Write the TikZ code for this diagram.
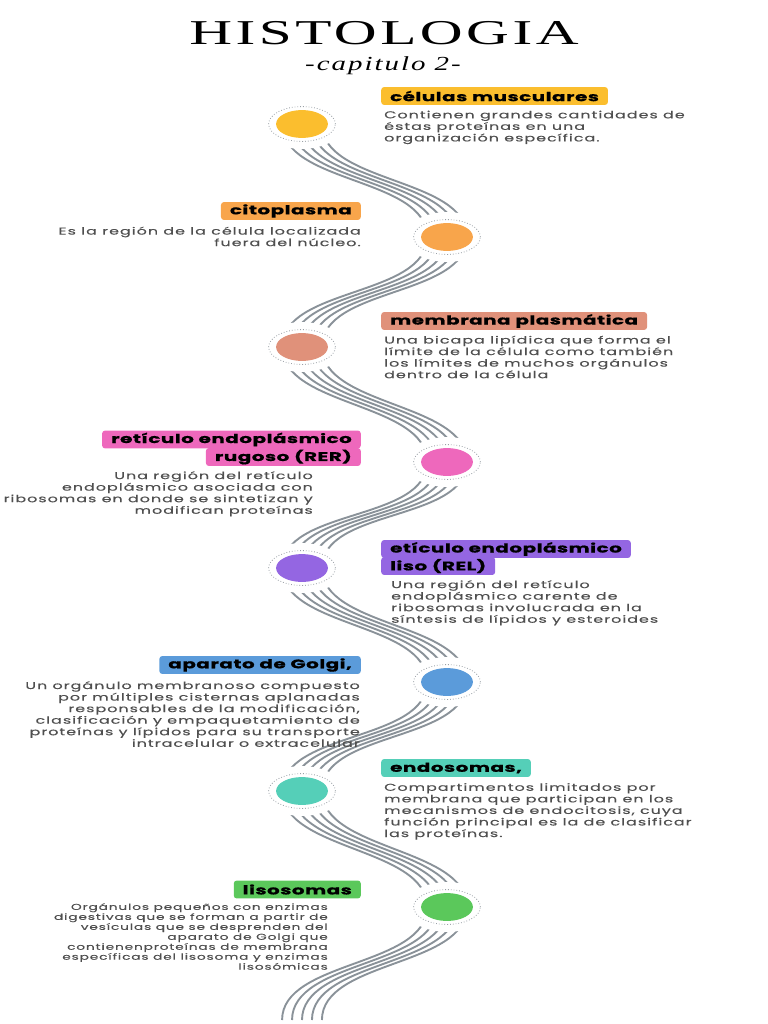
\documentclass[tikz,border=0pt]{standalone}
\usepackage{fontspec}
\setmainfont{Poppins}
\newfontfamily\titlefont[FakeStretch=1.7,LetterSpace=10]{Liberation Serif}
\newfontfamily\subfont[FakeStretch=1.45,LetterSpace=10]{Liberation Serif}
\newfontfamily\descfont[FakeStretch=1.6,LetterSpace=10,FakeBold=0.4]{Poppins}
\newfontfamily\labfont[FakeStretch=1.6,LetterSpace=4,FakeBold=0.8]{Poppins}
\usetikzlibrary{shapes.geometric,backgrounds,positioning}

\definecolor{cyel}{HTML}{FBBE2E}
\definecolor{corg}{HTML}{F8A54B}
\definecolor{csal}{HTML}{E0917A}
\definecolor{cpnk}{HTML}{EE68BC}
\definecolor{cpur}{HTML}{9466E2}
\definecolor{cblu}{HTML}{5B9BDA}
\definecolor{ctea}{HTML}{55CFB8}
\definecolor{cgrn}{HTML}{5BC85B}
\definecolor{wavegray}{HTML}{8A9299}
\definecolor{ringgray}{HTML}{9AA0A6}
\definecolor{descgray}{HTML}{4F4F4F}

\tikzset{
  halo/.style={ellipse, fill=white, minimum width=84, minimum height=50, inner sep=0},
  ring/.style={ellipse, draw=ringgray, dotted, line width=0.8, minimum width=67, minimum height=35, inner sep=0},
  dot/.style={ellipse, fill=#1, minimum width=52, minimum height=28, inner sep=0},
  wave/.style={draw=wavegray, line width=1.9},
  tag/.style={fill=#1, rounded corners=3, inner xsep=9, inner ysep=0, minimum height=18,
    text=black, font=\labfont\bfseries\fontsize{12.5}{15}\selectfont},
  desc/.style={inner sep=0, text=descgray, font=\descfont\fontsize{10}{11.6}\selectfont},
  small desc/.style={desc, font=\descfont\fontsize{8.6}{10}\selectfont},
}

\begin{document}
\begin{tikzpicture}[x=1bp, y=-1bp]
\useasboundingbox (0,0) rectangle (768,1024);

% title
\node (title) at (384,33) {\titlefont\fontsize{35}{40}\selectfont HISTOLOGIA};
\node (subtitle) at (383,66) {\subfont\itshape\fontsize{20}{22}\selectfont -capitulo 2-};

% stops
\foreach \n/\px/\py/\col in {1/302/124/cyel, 2/447/237/corg, 3/302/347/csal, 4/447/462/cpnk,
    5/302/568/cpur, 6/447/682/cblu, 7/302/791/ctea, 8/447/907/cgrn} {
  \node[halo] (h\n) at (\px,\py) {};
  \node[ring] (c\n) at (h\n) {};
  \node[dot=\col] (d\n) at (c\n) {};
}
\coordinate (tail) at (302,1020);

% waves between the stops
\begin{scope}[on background layer]
  \clip (0,0) rectangle (768,1024);
  \foreach \a/\b in {1/2, 2/3, 3/4, 4/5, 5/6, 6/7, 7/8}
    \foreach \d in {-2,...,2}
      \draw[wave] ([xshift=\d*10]c\a.center) .. controls +(0,60) and +(0,-60) .. ([xshift=\d*10]c\b.center);
  \foreach \d in {-2,...,2}
    \draw[wave] ([xshift=\d*10]c8.center) .. controls +(0,60) and +(0,-60) .. ([xshift=\d*10]tail);
\end{scope}

% labels and texts
\node[tag=cyel, anchor=west] (t1) at (381,96) {células musculares};
\node[desc, anchor=north west, align=left] (x1) at (384,110.5)
  {Contienen grandes cantidades de\\éstas proteínas en una\\organización específica.};

\node[tag=corg, anchor=east] (t2) at (361,211) {citoplasma};
\node[desc, anchor=north east, align=right] (x2) at (361,226.5)
  {Es la región de la célula localizada\\fuera del núcleo.};

\node[tag=csal, anchor=west] (t3) at (381,321) {membrana plasmática};
\node[desc, anchor=north west, align=left] (x3) at (384,335.5)
  {Una bicapa lipídica que forma el\\límite de la célula como también\\los límites de muchos orgánulos\\dentro de la célula};

\node[tag=cpnk, anchor=east] (t4a) at (361,439.5) {retículo endoplásmico};
\node[tag=cpnk, anchor=east] (t4b) at (361,457) {rugoso (RER)};
\node[desc, anchor=north east, align=right] (x4) at (313,471)
  {Una región del retículo\\endoplásmico asociada con\\ribosomas en donde se sintetizan y\\modifican proteínas};

\node[tag=cpur, anchor=west] (t5a) at (381,549) {etículo endoplásmico};
\node[tag=cpur, anchor=west] (t5b) at (381,566) {liso (REL)};
\node[desc, anchor=north west, align=left] (x5) at (391,580)
  {Una región del retículo\\endoplásmico carente de\\ribosomas involucrada en la\\síntesis de lípidos y esteroides};

\node[tag=cblu, anchor=east] (t6) at (361,665) {aparato de Golgi,};
\node[desc, anchor=north east, align=right] (x6) at (360,681)
  {Un orgánulo membranoso compuesto\\por múltiples cisternas aplanadas\\responsables de la modificación,\\clasificación y empaquetamiento de\\proteínas y lípidos para su transporte\\intracelular o extracelular};

\node[tag=ctea, anchor=west] (t7) at (381,768) {endosomas,};
\node[desc, anchor=north west, align=left] (x7) at (384,783)
  {Compartimentos limitados por\\membrana que participan en los\\mecanismos de endocitosis, cuya\\función principal es la de clasificar\\las proteínas.};

\node[tag=cgrn, anchor=east] (t8) at (361,889.5) {lisosomas};
\node[small desc, anchor=north east, align=right] (x8) at (328,903)
  {Orgánulos pequeños con enzimas\\digestivas que se forman a partir de\\vesículas que se desprenden del\\aparato de Golgi que\\contienenproteínas de membrana\\específicas del lisosoma y enzimas\\lisosómicas};
\end{tikzpicture}
\end{document}
